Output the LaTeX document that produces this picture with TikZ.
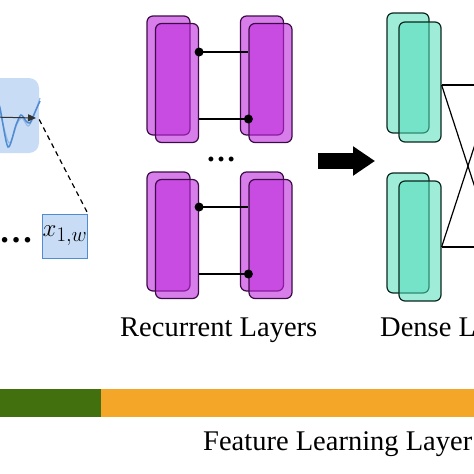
\documentclass[tikz,border=0pt]{standalone}
\usepackage{fontspec}
\setmainfont{Liberation Serif}
\usetikzlibrary{arrows.meta}

\definecolor{recfill}{RGB}{190,40,220}
\definecolor{recedge}{RGB}{60,10,70}
\definecolor{denfill}{RGB}{80,220,185}
\definecolor{denedge}{RGB}{10,40,30}
\definecolor{sigfill}{RGB}{200,220,245}
\definecolor{sigline}{RGB}{80,140,210}
\definecolor{barGreen}{RGB}{66,112,14}
\definecolor{barOrange}{RGB}{243,166,40}

\begin{document}
\begin{tikzpicture}[x=1pt, y=-1pt,
        rec/.style={draw=recedge, fill=recfill, fill opacity=0.6, rounded corners=6pt, minimum width=43pt, minimum height=119pt, inner sep=0pt, line width=1.2pt},
        den/.style={draw=denedge, fill=denfill, fill opacity=0.55, rounded corners=6pt, minimum width=42pt, minimum height=120pt, inner sep=0pt, line width=1.2pt},
        link/.style={line width=1.2pt},
        lbl/.style={font=\fontsize{28.5}{30}\selectfont, inner sep=0pt}]
        \useasboundingbox (0,0) rectangle (474,474);
        \clip (0,0) rectangle (474,474);

        % input signal
        \node[fill=sigfill, rounded corners=10pt, minimum width=80pt, minimum height=75pt] (sig) at (-1,115.5) {};
        \draw[sigline!60, line width=1.2pt] plot[smooth] coordinates {(-4,100) (0,112) (9,143) (17,124) (22,118) (28,126) (33,118) (40,98)};
        \draw[sigline, line width=1.5pt] plot[smooth] coordinates {(-4,96) (0,108) (8,147) (16,125) (21,115) (26,121) (30,123) (35,112) (40,101)};
        \coordinate (sigin) at (-10,117);
        \coordinate (sigout) at (36,118);
        \draw[black!80, line width=1pt, -{Triangle[length=8pt, width=7pt]}] (sigin) -- (sigout);
        \node[draw=sigline, fill=sigfill, line width=1pt, minimum width=44pt, minimum height=44pt, inner sep=0pt, font=\fontsize{31}{31}\selectfont] (xbox) at (65,236) {$x_{1,w}$};
        \node[inner sep=0pt, font=\bfseries\fontsize{34}{34}\selectfont] (ldots) at (16,240) {…};
        \draw[dash pattern=on 5pt off 4pt, line width=1.2pt] ([yshift=-4pt]sig.east) -- (xbox.north east);

        % recurrent layers
        \node[rec] (ru1b) at (168.5,75.5) {};
        \node[rec] (ru1) at (177,83) {};
        \node[rec] (ru2b) at (262,75.5) {};
        \node[rec] (ru2) at (270.5,83) {};
        \node[rec] (rl1b) at (168.5,231.5) {};
        \node[rec] (rl1) at (177,239) {};
        \node[rec] (rl2b) at (262,231.5) {};
        \node[rec] (rl2) at (270.5,239) {};
        \node[inner sep=0pt, font=\bfseries\fontsize{30}{30}\selectfont] (mdots) at (221,159) {…};

        \draw[link] ([yshift=31pt]ru1.east) -- ([yshift=31pt]ru2.west);
        \draw[link] ([yshift=-36pt]ru1.east) -- ([yshift=-36pt]ru2.west);
        \fill ([yshift=31pt]ru1.east) circle (4.5pt);
        \fill ([yshift=-36pt]ru2.west) circle (4.5pt);
        \draw[link] ([yshift=32pt]rl1.east) -- ([yshift=32pt]rl2.west);
        \draw[link] ([yshift=-35pt]rl1.east) -- ([yshift=-35pt]rl2.west);
        \fill ([yshift=32pt]rl1.east) circle (4.5pt);
        \fill ([yshift=-35pt]rl2.west) circle (4.5pt);

        % arrow between the blocks
        \coordinate (arS) at (318,161);
        \coordinate (arE) at (375,161);
        \draw[line width=16pt, -{Triangle[length=22pt, width=28pt]}] (arS) -- (arE);

        % dense layers
        \node[den] (du1b) at (408,73) {};
        \node[den] (du1) at (420,82) {};
        \node[den] (dl1b) at (408,233) {};
        \node[den] (dl1) at (420,241) {};
        \coordinate (nu) at (500,85);
        \coordinate (nl) at (500,247);
        \coordinate (nx1) at (480,203);
        \coordinate (nx2) at (480,129);
        \draw[link] ([yshift=-3pt]du1.east) -- (nu);
        \draw[link] ([yshift=-3pt]du1.east) -- (nx1);
        \draw[link] ([yshift=-6pt]dl1.east) -- (nl);
        \draw[link] ([yshift=-6pt]dl1.east) -- (nx2);

        % labels
        \node[lbl, anchor=base west] (rtitle) at (120,336) {Recurrent Layers};
        \node[lbl, anchor=base west] (dtitle) at (380,336) {Dense L};

        % bar
        \fill[barGreen] (0,389) rectangle (101,417);
        \fill[barOrange] (101,389) rectangle (474,417);
        \node[lbl, anchor=base west] (ftitle) at (203,450) {Feature Learning Layer};
\end{tikzpicture}
\end{document}
